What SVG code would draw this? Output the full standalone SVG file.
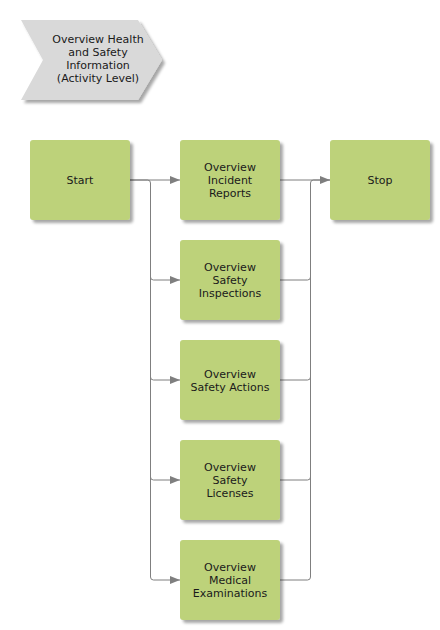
<svg xmlns="http://www.w3.org/2000/svg" width="440" height="630" viewBox="0 0 440 630">
<style>
.box{fill:#bdd27a;filter:url(#sh)}
.t{font-family:"DejaVu Sans",Verdana,sans-serif;font-size:11px;fill:#1a1a1a;text-anchor:middle}
.c{fill:none;stroke:#7f7f7f;stroke-width:1}
</style>
<defs>
<filter id="sh" x="-20%" y="-20%" width="150%" height="150%">
<feGaussianBlur in="SourceAlpha" stdDeviation="1.5"/>
<feOffset dx="3" dy="3" result="b"/>
<feComponentTransfer><feFuncA type="linear" slope="0.35"/></feComponentTransfer>
<feMerge><feMergeNode/><feMergeNode in="SourceGraphic"/></feMerge>
</filter>
<marker id="ar" markerWidth="10" markerHeight="8" refX="10" refY="4" orient="auto" markerUnits="userSpaceOnUse">
<path d="M0,0 L10,4 L0,8 Z" fill="#7f7f7f"/>
</marker>
</defs>
<g id="header">
<polygon points="21,20 138,20 162,60 138,100 21,100 43,60" fill="#d9d9d9" filter="url(#sh)"/>
<text class="t"><tspan x="98" y="43">Overview Health</tspan><tspan x="98" y="56">and Safety</tspan><tspan x="98" y="69">Information</tspan><tspan x="98" y="82">(Activity Level)</tspan></text>
</g>
<g id="connectors">
<path class="c" d="M130,180 H180" marker-end="url(#ar)"/>
<path class="c" d="M130,180 H147.5 Q150.5,180 150.5,183 V277 Q150.5,280 153.5,280 H180" marker-end="url(#ar)"/>
<path class="c" d="M150.5,183 V377 Q150.5,380 153.5,380 H180" marker-end="url(#ar)"/>
<path class="c" d="M150.5,183 V477 Q150.5,480 153.5,480 H180" marker-end="url(#ar)"/>
<path class="c" d="M150.5,183 V577 Q150.5,580 153.5,580 H180" marker-end="url(#ar)"/>
<path class="c" d="M280,180 H330" marker-end="url(#ar)"/>
<path class="c" d="M280,280 H307.5 Q310.5,280 310.5,277 V183 Q310.5,180 313.5,180 H330"/>
<path class="c" d="M280,380 H307.5 Q310.5,380 310.5,377 V183"/>
<path class="c" d="M280,480 H307.5 Q310.5,480 310.5,477 V183"/>
<path class="c" d="M280,580 H307.5 Q310.5,580 310.5,577 V183"/>
</g>
<g id="start"><rect class="box" x="30" y="140" width="100" height="80" rx="3"/><text class="t" x="80" y="184">Start</text></g>
<g id="incident"><rect class="box" x="180" y="140" width="100" height="80" rx="3"/><text class="t"><tspan x="230" y="171">Overview</tspan><tspan x="230" y="184">Incident</tspan><tspan x="230" y="197">Reports</tspan></text></g>
<g id="stop"><rect class="box" x="330" y="140" width="100" height="80" rx="3"/><text class="t" x="380" y="184">Stop</text></g>
<g id="inspections"><rect class="box" x="180" y="240" width="100" height="80" rx="3"/><text class="t"><tspan x="230" y="271">Overview</tspan><tspan x="230" y="284">Safety</tspan><tspan x="230" y="297">Inspections</tspan></text></g>
<g id="actions"><rect class="box" x="180" y="340" width="100" height="80" rx="3"/><text class="t"><tspan x="230" y="378">Overview</tspan><tspan x="230" y="391">Safety Actions</tspan></text></g>
<g id="licenses"><rect class="box" x="180" y="440" width="100" height="80" rx="3"/><text class="t"><tspan x="230" y="471">Overview</tspan><tspan x="230" y="484">Safety</tspan><tspan x="230" y="497">Licenses</tspan></text></g>
<g id="medical"><rect class="box" x="180" y="540" width="100" height="80" rx="3"/><text class="t"><tspan x="230" y="571">Overview</tspan><tspan x="230" y="584">Medical</tspan><tspan x="230" y="597">Examinations</tspan></text></g>
</svg>
